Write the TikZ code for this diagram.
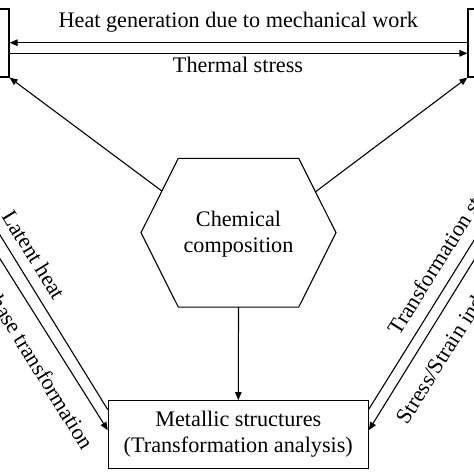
\documentclass[tikz,border=0pt]{standalone}
\usepackage{fontspec}
\setmainfont{Liberation Serif}
\usetikzlibrary{arrows.meta,calc}
\begin{document}
\begin{tikzpicture}[x=1pt,y=-1pt,
  line width=1.1pt,
  every node/.style={font=\fontsize{22.2}{26}\selectfont, inner sep=0pt},
  arr/.style={-{Triangle[length=8pt,width=6.5pt]}},
  boxnode/.style={draw, line width=1.1pt, inner sep=0pt},
]
\useasboundingbox (0,0) rectangle (474,474);
\clip (0,0) rectangle (474,474);

% top boxes (mostly outside the picture)
\node[boxnode, minimum width=120pt, minimum height=68pt] (temp) at (-51,43) {};
\node[boxnode, minimum width=120pt, minimum height=68pt] (stress) at (528,43) {};

\node[anchor=base] (heatlbl) at (238.3,27) {Heat generation due to mechanical work};
\node[anchor=base] (thermlbl) at (238,72.5) {Thermal stress};

\coordinate (ya) at (0,42.7);
\coordinate (yb) at (0,53.3);
\draw[arr] (stress.west |- ya) -- (temp.east |- ya);
\draw[arr] (temp.east |- yb) -- (stress.west |- yb);

% hexagon
\coordinate (h1) at (178.3,158.3);
\coordinate (h2) at (298.7,158.3);
\coordinate (h3) at (336,232.7);
\coordinate (h4) at (298.7,307.1);
\coordinate (h5) at (178.3,307.1);
\coordinate (h6) at (141,232.7);
\draw (h1) -- (h2) -- (h3) -- (h4) -- (h5) -- (h6) -- cycle;
\node[align=center] (chem) at (238.5,234.5) {Chemical\\composition};

\coordinate (hl) at ($(h1)!0.44!(h6)$);
\coordinate (hr) at ($(h2)!0.45!(h3)$);
\coordinate (hb) at ($(h4)!0.5!(h5)$);
\draw[arr] (hl) -- (temp.south east);
\draw[arr] (hr) -- (stress.south west);

% metallic structures box
\node[boxnode, minimum width=260pt, minimum height=67.6pt, align=center] (metal) at (238.3,434.5) {Metallic structures\\(Transformation analysis)};
\draw[arr] (hb) -- (metal.north);

% left diagonal arrows
\coordinate (lu) at (-54,147.5);
\coordinate (ll) at (-54,173);
\draw[arr] ($(metal.north west)+(0,9.5)$) -- (lu);
\draw[arr] (ll) -- ($(metal.north west)+(0,30)$);
\node[rotate=-58.3] (latent) at (34,255) {Latent heat};
\node[rotate=-58.3] (phase) at (39.4,367) {Phase transformation};

% right diagonal arrows
\coordinate (ru) at (524,160);
\coordinate (rl) at (527,174.5);
\draw[arr] ($(metal.north east)+(0,9)$) -- (ru);
\draw[arr] (rl) -- ($(metal.north east)+(0,30)$);
\node[rotate=58] (transtress) at (444,251) {Transformation stress};
\node[rotate=58] (induced) at (487,284) {Stress/Strain induced transformation};
\end{tikzpicture}
\end{document}
